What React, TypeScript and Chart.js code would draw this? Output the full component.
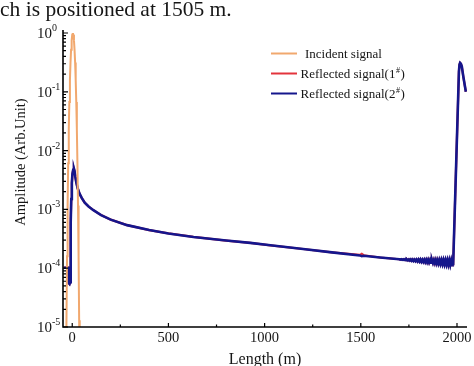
import React, { useEffect, useRef } from "react";
import { Chart, registerables } from "chart.js";

Chart.register(...registerables);

// ---------- data ----------
const incidentX = [-33, -30, -27, -24, -21, -18, -15, -12, -9, -6, -3, 0, 3, 6, 9, 12, 15, 18, 21, 24, 27, 30, 33, 36, 39];
const incidentY = [7.6e-7, 1.3e-5, 1.6e-4, 1.17e-3, 6.1e-3, 2.3e-2, 6.7e-2, 0.158, 0.316, 0.52, 0.75, 0.93, 1.0, 0.93, 0.75, 0.52, 0.316, 0.158, 6.7e-2, 2.3e-2, 6.1e-3, 1.17e-3, 1.6e-4, 1.3e-5, 7.6e-7];

const lengthM = [
  -44, -21, -19, -17, -14, -11, -9, -7, -5, -2, 1, 5, 9, 12, 16, 21, 28, 38, 50, 65, 85, 110, 150, 200, 285,
  400, 500, 630, 800, 925, 1030, 1200, 1350, 1495, 1505, 1515, 1600, 1700,
  1705, 1710, 1715, 1720, 1725, 1730, 1735, 1740, 1745, 1750, 1755, 1760, 1765, 1770, 1775, 1780, 1785, 1790,
  1795, 1800, 1805, 1810, 1815, 1820, 1825, 1830, 1835, 1840, 1845, 1850, 1855, 1860, 1865, 1870, 1875, 1880,
  1885, 1890, 1895, 1900, 1905, 1910, 1915, 1920, 1925, 1930, 1935, 1940, 1945, 1950, 1955, 1960, 1965, 1970,
  1975, 1978, 1980,
  2010, 2013, 2016, 2020, 2025, 2033, 2046,
];
const reflected2 = [
  1.02e-4, 1.02e-4, 8.0e-5, 5.6e-5, 5.4e-5, 5.8e-5, 1.5e-4, 6.0e-4, 1.5e-3, 2.8e-3, 4.0e-3, 4.7e-3, 4.9e-3, 4.5e-3, 3.6e-3, 2.9e-3, 2.3e-3, 1.85e-3, 1.55e-3, 1.3e-3, 1.12e-3, 9.7e-4, 8.0e-4, 6.7e-4, 5.4e-4,
  4.45e-4, 3.9e-4, 3.4e-4, 2.95e-4, 2.7e-4, 2.45e-4, 2.12e-4, 1.86e-4, 1.65e-4, 1.6e-4, 1.63e-4, 1.52e-4, 1.42e-4,
  1.4e-4, 1.42e-4, 1.39e-4, 1.42e-4, 1.38e-4, 1.42e-4, 1.37e-4, 1.41e-4, 1.36e-4, 1.41e-4, 1.35e-4, 1.41e-4, 1.34e-4, 1.41e-4, 1.33e-4, 1.4e-4, 1.32e-4, 1.4e-4,
  1.31e-4, 1.4e-4, 1.3e-4, 1.4e-4, 1.29e-4, 1.39e-4, 1.28e-4, 1.39e-4, 1.27e-4, 1.39e-4, 1.26e-4, 1.39e-4, 1.25e-4, 1.38e-4, 1.24e-4, 1.38e-4, 1.23e-4, 1.38e-4,
  1.22e-4, 1.38e-4, 1.21e-4, 1.37e-4, 1.2e-4, 1.37e-4, 1.19e-4, 1.37e-4, 1.18e-4, 1.37e-4, 1.17e-4, 1.36e-4, 1.16e-4, 1.36e-4, 1.15e-4, 1.36e-4, 1.14e-4, 1.36e-4,
  1.13e-4, 1.3e-4, 1.12e-4,
  0.22, 0.29, 0.31, 0.3, 0.27, 0.18, 0.1,
];
// Reflected signal (1#) follows signal (2#) except at the branch near 1505 m
const branchX = [1495, 1505, 1515];
const branchY = [1.68e-4, 1.75e-4, 1.66e-4];

const xMajorTicks = [0, 500, 1000, 1500, 2000];
const xMinorTicks = [250, 750, 1250, 1750];
const yExponents = [0, -1, -2, -3, -4, -5];
const legendItems = [
  { text: "Incident signal", sup: "", tail: "", color: "#F1A86E" },
  { text: "Reflected signal(1", sup: "#", tail: ")", color: "#E3343C" },
  { text: "Reflected signal(2", sup: "#", tail: ")", color: "#15168C" },
];
const captionText = "ch is positioned at 1505 m.";
const xTitle = "Length (m)";
const yTitle = "Amplitude (Arb.Unit)";

const FONT = '"Liberation Serif", "Times New Roman", serif';
const INK = "#161616";

const decorPlugin = {
  id: "decor",
  afterDraw(chart: any) {
    const { ctx, chartArea } = chart;
    const xs = chart.scales.x;
    const ys = chart.scales.y;
    const L = chartArea.left;
    const R = chartArea.right;
    const B = chartArea.bottom;
    ctx.save();

    ctx.fillStyle = INK;
    ctx.font = `21.5px ${FONT}`;
    ctx.textAlign = "left";
    ctx.textBaseline = "alphabetic";
    ctx.fillText(captionText, 0, 16);

    ctx.strokeStyle = "#000";
    ctx.lineWidth = 1.6;
    ctx.beginPath();
    ctx.moveTo(L, chartArea.top - 3);
    ctx.lineTo(L, B);
    ctx.lineTo(R, B);
    ctx.stroke();

    ctx.lineWidth = 1.2;
    ctx.beginPath();
    yExponents.forEach((e) => {
      const py = ys.getPixelForValue(Math.pow(10, e));
      ctx.moveTo(L, py);
      ctx.lineTo(L + 5, py);
      if (e < 0) {
        for (let m = 2; m <= 9; m++) {
          const pm = ys.getPixelForValue(m * Math.pow(10, e));
          ctx.moveTo(L, pm);
          ctx.lineTo(L + 3, pm);
        }
      }
    });
    xMajorTicks.forEach((v) => {
      const px = xs.getPixelForValue(v);
      ctx.moveTo(px, B);
      ctx.lineTo(px, B - 4);
    });
    xMinorTicks.forEach((v) => {
      const px = xs.getPixelForValue(v);
      ctx.moveTo(px, B);
      ctx.lineTo(px, B - 2.5);
    });
    ctx.stroke();

    ctx.fillStyle = INK;
    yExponents.forEach((e) => {
      const py = ys.getPixelForValue(Math.pow(10, e));
      ctx.font = `15px ${FONT}`;
      ctx.textAlign = "right";
      ctx.fillText("10", 52, py + 5);
      ctx.font = `10px ${FONT}`;
      ctx.textAlign = "left";
      ctx.fillText(String(e), 52, py - 2);
    });

    ctx.font = `14.5px ${FONT}`;
    ctx.textAlign = "center";
    xMajorTicks.forEach((v) => {
      ctx.fillText(String(v), xs.getPixelForValue(v), 342);
    });

    ctx.font = `16px ${FONT}`;
    ctx.fillText(xTitle, (L + R) / 2, 364);

    ctx.save();
    ctx.translate(21.5, 162);
    ctx.rotate(-Math.PI / 2);
    ctx.font = `14.5px ${FONT}`;
    ctx.textAlign = "center";
    ctx.textBaseline = "middle";
    ctx.fillText(yTitle, 0, 0);
    ctx.restore();

    legendItems.forEach((it, i) => {
      const ly = 53.5 + i * 20;
      ctx.strokeStyle = it.color;
      ctx.lineWidth = 2;
      ctx.beginPath();
      ctx.moveTo(271, ly);
      ctx.lineTo(297, ly);
      ctx.stroke();
      ctx.fillStyle = INK;
      ctx.textAlign = "left";
      ctx.textBaseline = "alphabetic";
      ctx.font = `13px ${FONT}`;
      let tx = i === 0 ? 305 : 300.5;
      ctx.fillText(it.text, tx, ly + 4.5);
      tx += ctx.measureText(it.text).width;
      if (it.sup) {
        ctx.font = `8px ${FONT}`;
        ctx.fillText(it.sup, tx + 0.5, ly - 1);
        tx += ctx.measureText(it.sup).width + 1;
        ctx.font = `13px ${FONT}`;
        ctx.fillText(it.tail, tx, ly + 4.5);
      }
    });

    ctx.restore();
  },
};

export default function App() {
  const ref = useRef<HTMLCanvasElement | null>(null);

  useEffect(() => {
    document.body.style.margin = "0";
    const canvas = ref.current;
    if (!canvas) return;
    const toPts = (xa: number[], ya: number[]) => xa.map((x, i) => ({ x, y: ya[i] }));
    const red = lengthM.map((x, i) => {
      const k = branchX.indexOf(x);
      return { x, y: k >= 0 ? branchY[k] : reflected2[i] };
    });
    const chart = new Chart(canvas, {
      type: "line",
      data: {
        datasets: [
          {
            label: "Incident signal",
            data: toPts(incidentX, incidentY),
            borderColor: legendItems[0].color,
            borderWidth: 2,
            pointRadius: 0,
            order: 0,
          },
          {
            label: "Reflected signal(2#)",
            data: toPts(lengthM, reflected2),
            borderColor: legendItems[2].color,
            borderWidth: 2.6,
            pointRadius: 0,
            order: 1,
          },
          {
            label: "Reflected signal(1#)",
            data: red,
            borderColor: legendItems[1].color,
            borderWidth: 2.2,
            pointRadius: 0,
            order: 2,
          },
        ],
      },
      options: {
        responsive: false,
        animation: false,
        devicePixelRatio: 1,
        layout: { padding: { left: 63, right: 7, top: 33, bottom: 39 } },
        plugins: { legend: { display: false }, tooltip: { enabled: false } },
        scales: {
          x: { type: "linear", min: -48, max: 2052, display: false },
          y: { type: "logarithmic", min: 1e-5, max: 1, display: false },
        },
      },
      plugins: [decorPlugin],
    } as any);
    return () => chart.destroy();
  }, []);

  return (
    <div style={{ width: 474, height: 366, position: "relative", background: "#fff" }}>
      <canvas ref={ref} width={474} height={366} style={{ display: "block" }} />
    </div>
  );
}
